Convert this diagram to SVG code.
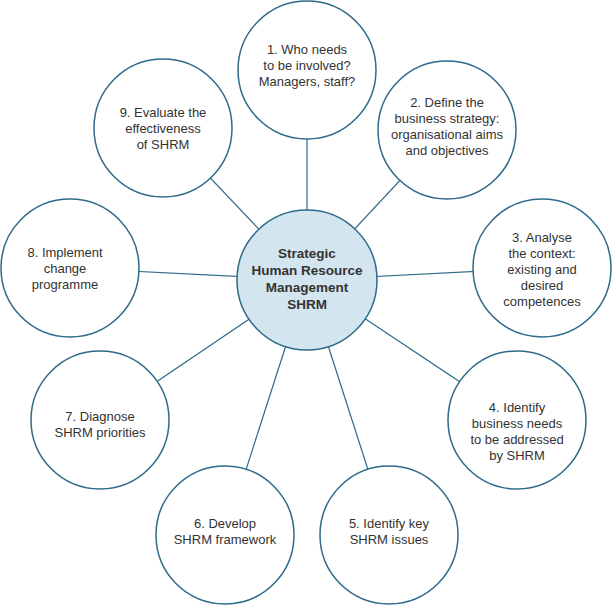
<svg xmlns="http://www.w3.org/2000/svg" width="613" height="606" viewBox="0 0 613 606">
<style>
.n{fill:#fff;stroke:#2e6a8a;stroke-width:1.5}
.c{fill:#d3e5ef;stroke:#2e6a8a;stroke-width:1.5}
text{font-family:"Liberation Sans",Arial,sans-serif;font-size:13px;fill:#333;text-anchor:middle}
.b{font-weight:bold;font-size:13.5px}
line{stroke:#2e6a8a;stroke-width:1.2}
</style>
<rect width="613" height="606" fill="#fff"/>
<g id="connectors">
<line x1="307" y1="280" x2="307" y2="70"/>
<line x1="307" y1="280" x2="447" y2="130"/>
<line x1="307" y1="280" x2="542" y2="268"/>
<line x1="307" y1="280" x2="517" y2="420"/>
<line x1="307" y1="280" x2="389" y2="535"/>
<line x1="307" y1="280" x2="225" y2="535"/>
<line x1="307" y1="280" x2="100" y2="420"/>
<line x1="307" y1="280" x2="70" y2="268"/>
<line x1="307" y1="280" x2="163" y2="128"/>
</g>
<g id="n1"><circle class="n" cx="307" cy="70" r="69"/><text x="307" y="54">1. Who needs</text><text x="307" y="70">to be involved?</text><text x="307" y="86">Managers, staff?</text></g>
<g id="n2"><circle class="n" cx="447" cy="130" r="69"/><text x="447" y="107">2. Define the</text><text x="447" y="123">business strategy:</text><text x="447" y="139">organisational aims</text><text x="447" y="155">and objectives</text></g>
<g id="n3"><circle class="n" cx="542" cy="268" r="69"/><text x="542" y="242">3. Analyse</text><text x="542" y="258">the context:</text><text x="542" y="274">existing and</text><text x="542" y="290">desired</text><text x="542" y="306">competences</text></g>
<g id="n4"><circle class="n" cx="517" cy="420" r="69"/><text x="517" y="412">4. Identify</text><text x="517" y="428">business needs</text><text x="517" y="444">to be addressed</text><text x="517" y="460">by SHRM</text></g>
<g id="n5"><circle class="n" cx="389" cy="535" r="69"/><text x="389" y="528">5. Identify key</text><text x="389" y="544">SHRM issues</text></g>
<g id="n6"><circle class="n" cx="225" cy="535" r="69"/><text x="225" y="528">6. Develop</text><text x="225" y="544">SHRM framework</text></g>
<g id="n7"><circle class="n" cx="100" cy="420" r="69"/><text x="100" y="421">7. Diagnose</text><text x="100" y="437">SHRM priorities</text></g>
<g id="n8"><circle class="n" cx="70" cy="268" r="69"/><text x="65" y="257">8. Implement</text><text x="65" y="273">change</text><text x="65" y="289">programme</text></g>
<g id="n9"><circle class="n" cx="163" cy="128" r="69"/><text x="163" y="117">9. Evaluate the</text><text x="163" y="133">effectiveness</text><text x="163" y="149">of SHRM</text></g>
<g id="center"><circle class="c" cx="307" cy="280" r="70"/><text class="b" x="307" y="258">Strategic</text><text class="b" x="307" y="275">Human Resource</text><text class="b" x="307" y="292">Management</text><text class="b" x="307" y="309">SHRM</text></g>
</svg>
